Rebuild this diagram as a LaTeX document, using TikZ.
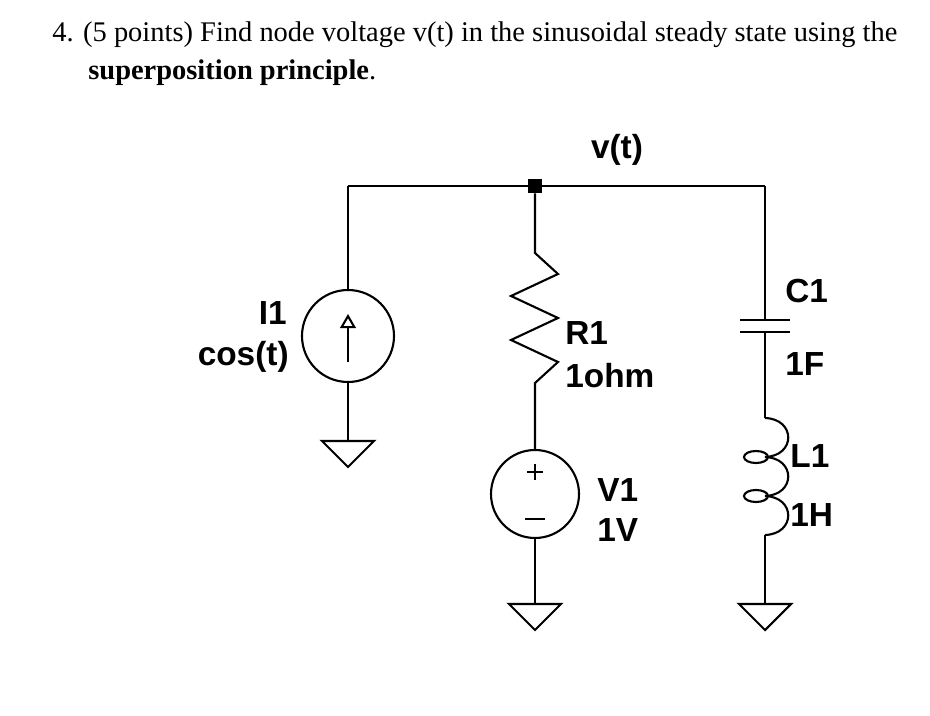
\documentclass[tikz,border=0pt]{standalone}
\usepackage{fontspec}
\setmainfont{Liberation Serif}
\newfontfamily\spicefont{Liberation Sans}
\usetikzlibrary{arrows}
\tikzset{
  wire/.style={line width=1.2pt},
  lbl/.style={font=\spicefont\bfseries\fontsize{19}{19}\selectfont,inner sep=0pt},
  title/.style={font=\fontsize{16.2}{16.2}\selectfont,inner sep=0pt,anchor=base west}
}
\newcommand{\gnd}[1]{\draw[wire](#1)++(-26,0)--++(52,0)--++(-26,26)--cycle;}
\begin{document}
\begin{tikzpicture}[x=0.02cm,y=-0.02cm]
\useasboundingbox(0,0)rectangle(930,716);
%question text
\node[title]at(52,42){4. (5 points) Find node voltage v(t) in the sinusoidal steady state using the};
\node[title]at(88,80){\textbf{superposition principle}.};
%nodes
\coordinate(tl)at(348,186);
\coordinate(tr)at(765,186);
\node[fill,minimum size=14*0.02cm,inner sep=0pt](vt)at(535,186){};
\coordinate(ig)at(348,441);
\coordinate(vg)at(535,604);
\coordinate(lg)at(765,604);
%top wire
\draw[wire](tl)--(tr);
%current source
\node[circle,draw,wire,minimum size=92*0.02cm,inner sep=0pt](i1)at(348,336){};
\draw[wire](tl)--(i1.north);
\draw[wire](i1.south)--(ig);
\draw[wire,-open triangle 60](348,362)--(348,314);
\gnd{ig}
%resistor and voltage source
\node[circle,draw,wire,minimum size=88*0.02cm,inner sep=0pt](v1)at(535,494){};
\draw[wire](vt)--(535,253)--(558,274)--(511,296)--(558,318)--(511,340)--(558,362)--(535,383)--(v1.north);
\draw[wire](v1.south)--(vg);
\draw[wire](527,472)--(543,472)(535,464)--(535,480);
\draw[wire](525,519)--(545,519);
\gnd{vg}
%capacitor and inductor
\draw[wire](tr)--(765,320);
\draw[wire](740,320)--(790,320)(740,332)--(790,332);
\draw[wire](765,332)--(765,418);
\foreach \y in {418,457,496}
  \draw[wire](765,\y)..controls(796,\y+1)and(796,\y+38)..(765,\y+39);
\foreach \y in {457,496}
  \draw[wire](756,\y)ellipse[x radius=12,y radius=6];
\draw[wire](765,535)--(lg);
\gnd{lg}
%labels
\node[lbl]at(617,150){v(t)};
\node[lbl,anchor=east]at(287,313){I1};
\node[lbl,anchor=east]at(289,357){cos(t)};
\node[lbl,anchor=west]at(565,333){R1};
\node[lbl,anchor=west]at(565,376){1ohm};
\node[lbl,anchor=west]at(597,490){V1};
\node[lbl,anchor=west]at(597,530){1V};
\node[lbl,anchor=west]at(785,291){C1};
\node[lbl,anchor=west]at(785,364){1F};
\node[lbl,anchor=west]at(790,456){L1};
\node[lbl,anchor=west]at(790,515){1H};
\end{tikzpicture}
\end{document}
